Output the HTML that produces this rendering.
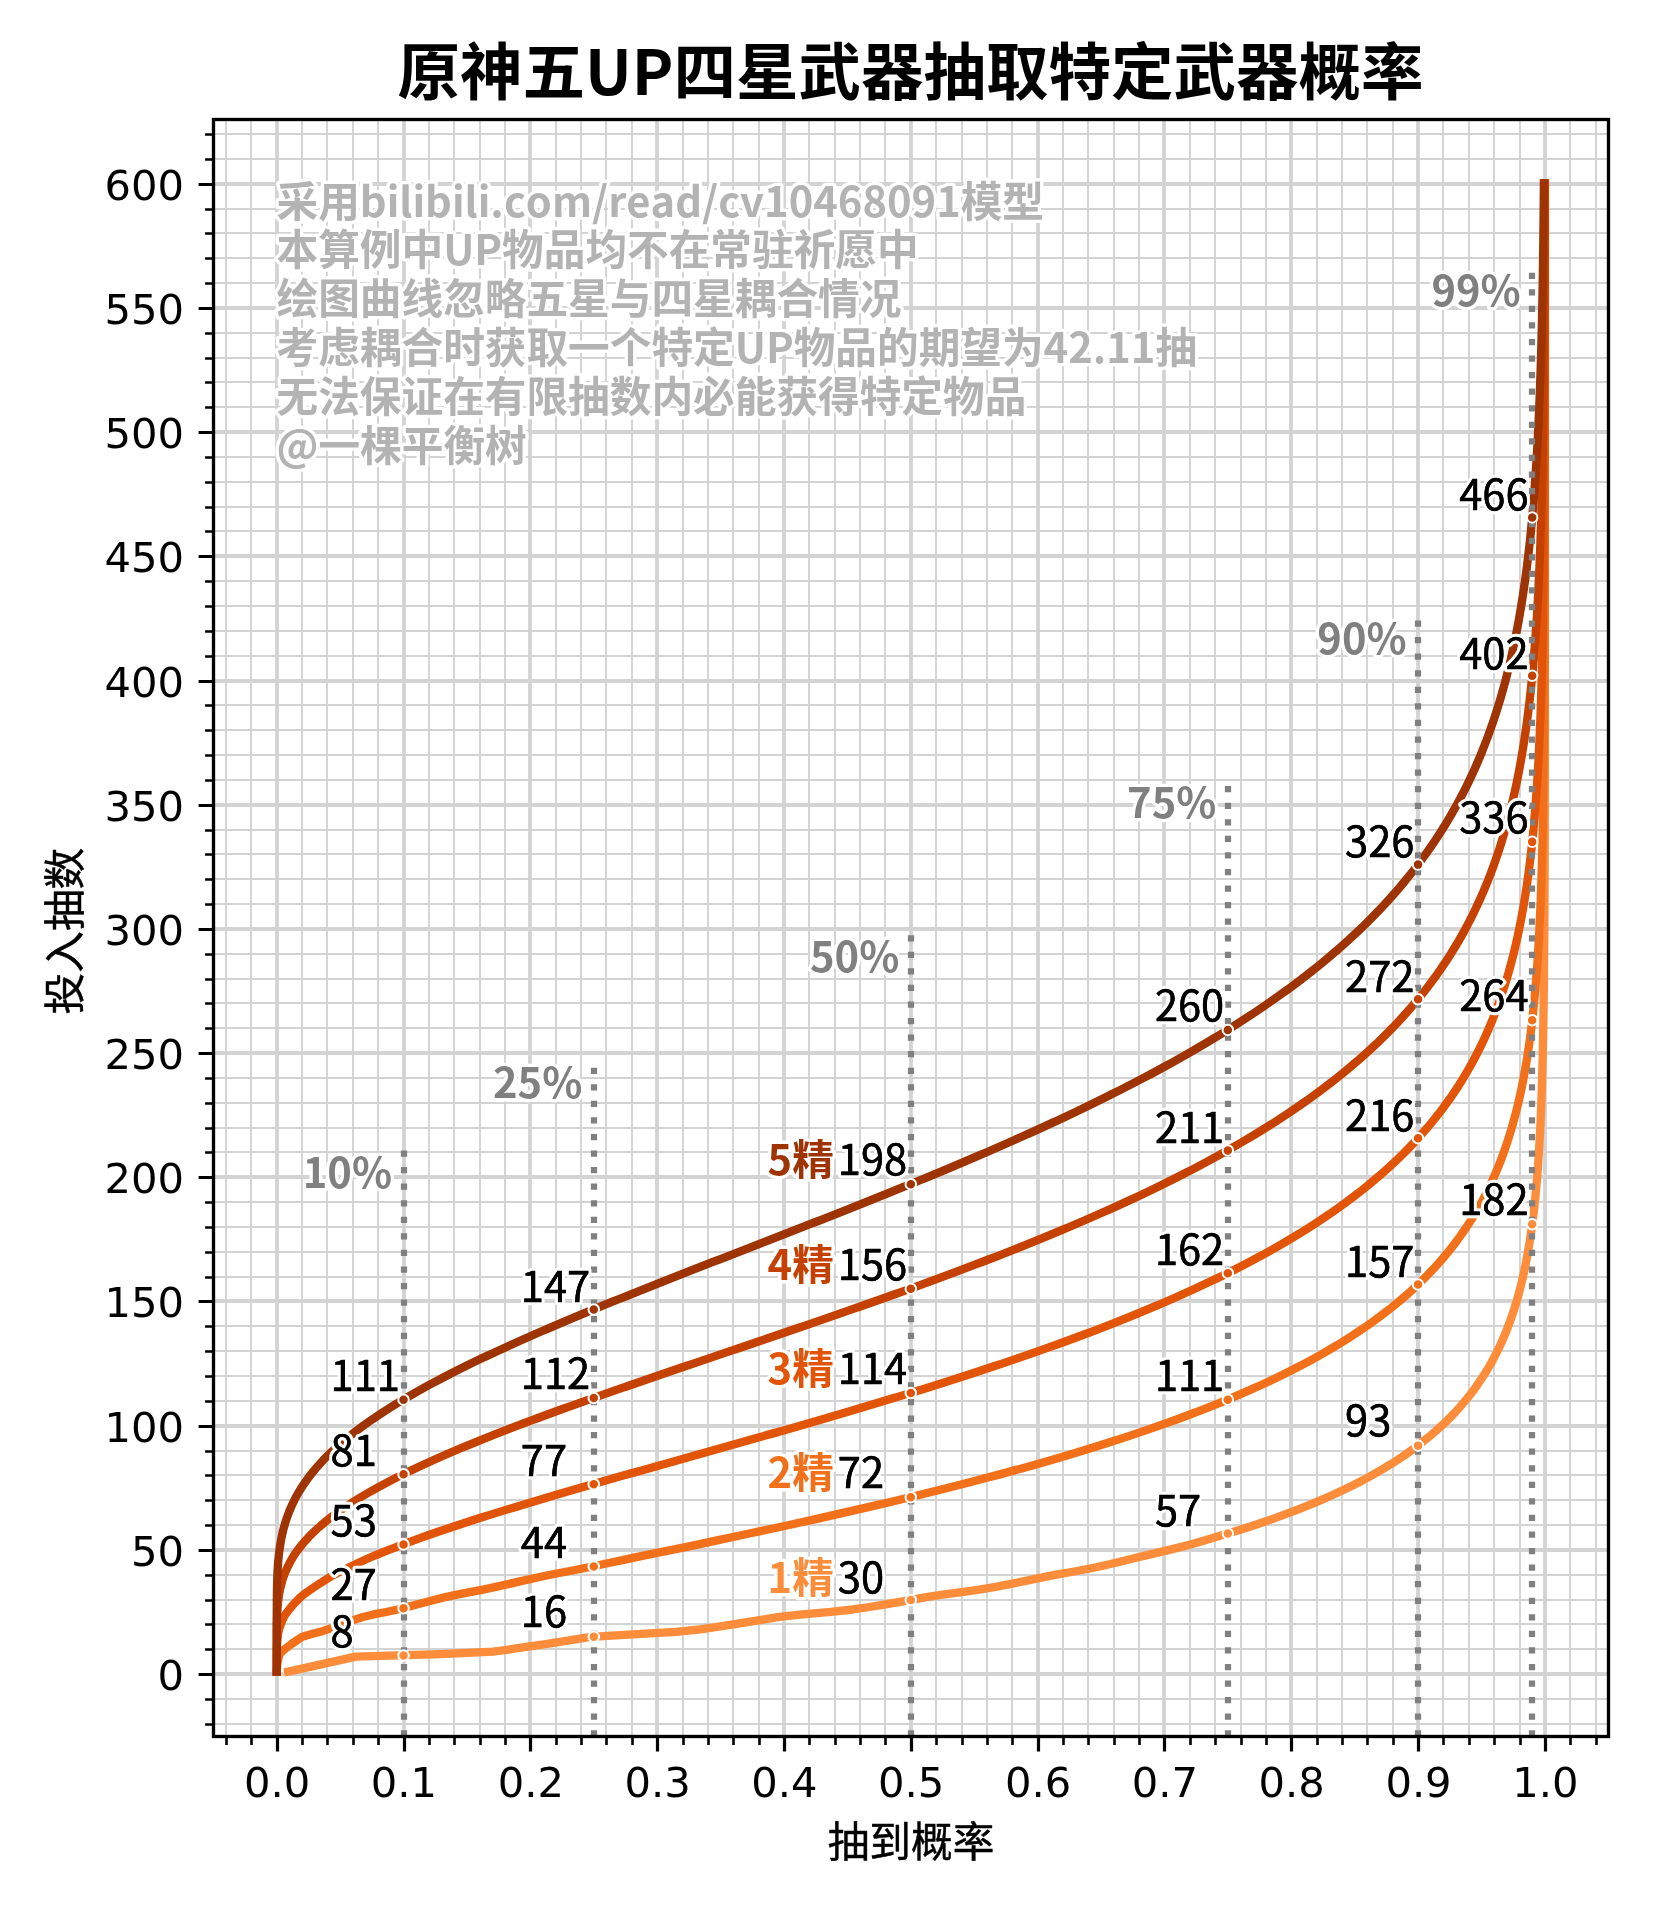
<!DOCTYPE html>
<html lang="zh"><head><meta charset="utf-8"><title>原神五UP四星武器抽取特定武器概率</title>
<style>html,body{margin:0;padding:0;background:#fff;overflow:hidden}svg{display:block;will-change:transform}.tk{font-family:"DejaVu Sans","Liberation Sans",sans-serif;font-size:41.67px;fill:#000}.cj{font-family:"Noto Sans CJK SC","Liberation Sans",sans-serif;font-kerning:none}.halo{paint-order:stroke fill;stroke:#fff;stroke-linejoin:round}</style></head><body>
<svg width="1653" height="1910" viewBox="0 0 1653 1910">
<rect width="1653" height="1910" fill="#fff"/>
<defs><clipPath id="ax"><rect x="213.5" y="119.5" width="1395" height="1617"/></clipPath></defs>
<path d="M226 119.5V1736.5M251 119.5V1736.5M302 119.5V1736.5M327 119.5V1736.5M353 119.5V1736.5M378 119.5V1736.5M429 119.5V1736.5M454 119.5V1736.5M480 119.5V1736.5M505 119.5V1736.5M556 119.5V1736.5M581 119.5V1736.5M606 119.5V1736.5M632 119.5V1736.5M683 119.5V1736.5M708 119.5V1736.5M733 119.5V1736.5M759 119.5V1736.5M809 119.5V1736.5M835 119.5V1736.5M860 119.5V1736.5M885 119.5V1736.5M936 119.5V1736.5M962 119.5V1736.5M987 119.5V1736.5M1012 119.5V1736.5M1063 119.5V1736.5M1088 119.5V1736.5M1114 119.5V1736.5M1139 119.5V1736.5M1190 119.5V1736.5M1215 119.5V1736.5M1241 119.5V1736.5M1266 119.5V1736.5M1317 119.5V1736.5M1342 119.5V1736.5M1367 119.5V1736.5M1393 119.5V1736.5M1443 119.5V1736.5M1469 119.5V1736.5M1494 119.5V1736.5M1520 119.5V1736.5M1570 119.5V1736.5M1596 119.5V1736.5M213.5 1724H1608.5M213.5 1699H1608.5M213.5 1649H1608.5M213.5 1624H1608.5M213.5 1600H1608.5M213.5 1575H1608.5M213.5 1525H1608.5M213.5 1500H1608.5M213.5 1475H1608.5M213.5 1451H1608.5M213.5 1401H1608.5M213.5 1376H1608.5M213.5 1351H1608.5M213.5 1326H1608.5M213.5 1277H1608.5M213.5 1252H1608.5M213.5 1227H1608.5M213.5 1202H1608.5M213.5 1152H1608.5M213.5 1128H1608.5M213.5 1103H1608.5M213.5 1078H1608.5M213.5 1028H1608.5M213.5 1003H1608.5M213.5 979H1608.5M213.5 954H1608.5M213.5 904H1608.5M213.5 879H1608.5M213.5 854H1608.5M213.5 830H1608.5M213.5 780H1608.5M213.5 755H1608.5M213.5 730H1608.5M213.5 705H1608.5M213.5 656H1608.5M213.5 631H1608.5M213.5 606H1608.5M213.5 581H1608.5M213.5 531H1608.5M213.5 507H1608.5M213.5 482H1608.5M213.5 457H1608.5M213.5 407H1608.5M213.5 382H1608.5M213.5 358H1608.5M213.5 333H1608.5M213.5 283H1608.5M213.5 258H1608.5M213.5 233H1608.5M213.5 209H1608.5M213.5 159H1608.5M213.5 134H1608.5" stroke="#d3d3d3" stroke-width="1.9" fill="none"/>
<path d="M277 119.5V1736.5M404 119.5V1736.5M530 119.5V1736.5M657 119.5V1736.5M784 119.5V1736.5M911 119.5V1736.5M1038 119.5V1736.5M1164 119.5V1736.5M1291 119.5V1736.5M1418 119.5V1736.5M1545 119.5V1736.5M213.5 1674H1608.5M213.5 1550H1608.5M213.5 1426H1608.5M213.5 1301H1608.5M213.5 1177H1608.5M213.5 1053H1608.5M213.5 929H1608.5M213.5 805H1608.5M213.5 681H1608.5M213.5 556H1608.5M213.5 432H1608.5M213.5 308H1608.5M213.5 184H1608.5" stroke="#d3d3d3" stroke-width="3.8" fill="none"/>
<g clip-path="url(#ax)" fill="none" stroke-width="8.33" stroke-linejoin="round" stroke-linecap="square">
<polyline points="288.17,1671.58 299.54,1669.1 310.86,1666.61 322.12,1664.13 333.33,1661.65 344.47,1659.16 355.56,1656.68 440.58,1654.19 493.13,1651.71 511.27,1649.23 527.67,1646.74 543.82,1644.26 559.73,1641.78 575.4,1639.29 590.84,1636.81 632.94,1634.32 676.07,1631.84 700.41,1629.36 717.16,1626.87 733.1,1624.39 748.78,1621.9 764.21,1619.42 779.39,1616.94 802.84,1614.45 830.76,1611.97 852.89,1609.49 869.4,1607 884.15,1604.52 898.48,1602.03 912.54,1599.55 926.32,1597.07 942.65,1594.58 961.67,1592.1 979.39,1589.61 994.14,1587.13 1007.18,1584.65 1019.63,1582.16 1031.78,1579.68 1043.68,1577.19 1056.25,1574.71 1069.99,1572.23 1083.65,1569.74 1096.01,1567.26 1107.19,1564.78 1117.77,1562.29 1128.04,1559.81 1138.07,1557.32 1148.18,1554.84 1158.68,1552.36 1169.25,1549.87 1179.29,1547.39 1188.63,1544.9 1197.48,1542.42 1206.04,1539.94 1214.37,1537.45 1222.61,1534.97 1230.92,1532.48 1239.23,1530 1247.29,1527.52 1254.97,1525.03 1262.29,1522.55 1269.36,1520.07 1276.23,1517.58 1282.97,1515.1 1289.65,1512.61 1296.27,1510.13 1302.75,1507.65 1309,1505.16 1315.01,1502.68 1320.82,1500.19 1326.46,1497.71 1331.96,1495.23 1337.37,1492.74 1342.7,1490.26 1347.93,1487.78 1353,1485.29 1357.9,1482.81 1362.65,1480.32 1367.27,1477.84 1371.76,1475.36 1376.16,1472.87 1380.47,1470.39 1384.7,1467.9 1388.81,1465.42 1392.8,1462.94 1396.68,1460.45 1400.44,1457.97 1404.11,1455.48 1407.69,1453 1411.19,1450.52 1414.61,1448.03 1417.95,1445.55 1421.2,1443.07 1424.35,1440.58 1427.42,1438.1 1430.41,1435.61 1433.32,1433.13 1436.17,1430.65 1438.94,1428.16 1441.65,1425.68 1444.29,1423.19 1446.86,1420.71 1449.36,1418.23 1451.79,1415.74 1454.16,1413.26 1456.48,1410.77 1458.73,1408.29 1460.93,1405.81 1463.08,1403.32 1465.17,1400.84 1467.2,1398.36 1469.18,1395.87 1471.11,1393.39 1472.99,1390.9 1474.83,1388.42 1476.62,1385.94 1478.36,1383.45 1480.06,1380.97 1481.71,1378.48 1483.32,1376 1484.89,1373.52 1486.42,1371.03 1487.92,1368.55 1489.37,1366.06 1490.79,1363.58 1492.17,1361.1 1493.51,1358.61 1494.83,1356.13 1496.1,1353.65 1497.35,1351.16 1498.56,1348.68 1499.74,1346.19 1500.9,1343.71 1502.02,1341.23 1503.11,1338.74 1504.18,1336.26 1505.22,1333.77 1506.23,1331.29 1507.22,1328.81 1508.18,1326.32 1509.12,1323.84 1510.03,1321.36 1510.92,1318.87 1511.79,1316.39 1512.63,1313.9 1513.46,1311.42 1514.26,1308.94 1515.04,1306.45 1515.8,1303.97 1516.54,1301.48 1517.27,1299 1517.97,1296.52 1518.66,1294.03 1519.33,1291.55 1519.98,1289.06 1520.62,1286.58 1521.24,1284.1 1521.84,1281.61 1522.43,1279.13 1523.01,1276.65 1523.56,1274.16 1524.11,1271.68 1524.64,1269.19 1525.16,1266.71 1525.66,1264.23 1526.15,1261.74 1526.63,1259.26 1527.1,1256.77 1527.55,1254.29 1527.99,1251.81 1528.43,1249.32 1528.85,1246.84 1529.26,1244.35 1529.66,1241.87 1530.05,1239.39 1530.43,1236.9 1530.79,1234.42 1531.16,1231.94 1531.51,1229.45 1531.85,1226.97 1532.18,1224.48 1532.51,1222 1532.82,1219.52 1533.13,1217.03 1533.43,1214.55 1533.73,1212.06 1534.01,1209.58 1534.29,1207.1 1534.56,1204.61 1534.82,1202.13 1535.08,1199.64 1535.33,1197.16 1535.58,1194.68 1535.82,1192.19 1536.05,1189.71 1536.27,1187.23 1536.49,1184.74 1536.71,1182.26 1536.92,1179.77 1537.12,1177.29 1537.32,1174.81 1537.52,1172.32 1537.7,1169.84 1537.89,1167.35 1538.07,1164.87 1538.24,1162.39 1538.41,1159.9 1538.58,1157.42 1538.74,1154.94 1538.9,1152.45 1539.05,1149.97 1539.2,1147.48 1539.35,1145 1539.49,1142.52 1539.63,1140.03 1539.76,1137.55 1539.89,1135.06 1540.02,1132.58 1540.15,1130.1 1540.27,1127.61 1540.39,1125.13 1540.5,1122.64 1540.62,1120.16 1540.73,1117.68 1540.83,1115.19 1540.94,1112.71 1541.04,1110.23 1541.14,1107.74 1541.23,1105.26 1541.33,1102.77 1541.42,1100.29 1541.51,1097.81 1541.6,1095.32 1541.68,1092.84 1541.76,1090.35 1541.84,1087.87 1541.92,1085.39 1542,1082.9 1542.07,1080.42 1542.15,1077.93 1542.22,1075.45 1542.29,1072.97 1542.35,1070.48 1542.42,1068 1542.48,1065.52 1542.54,1063.03 1542.6,1060.55 1542.66,1058.06 1542.72,1055.58 1542.78,1053.1 1542.83,1050.61 1542.89,1048.13 1542.94,1045.64 1542.99,1043.16 1543.04,1040.68 1543.09,1038.19 1543.13,1035.71 1543.18,1033.22 1543.22,1030.74 1543.27,1028.26 1543.31,1025.77 1543.35,1023.29 1543.39,1020.81 1543.43,1018.32 1543.47,1015.84 1543.5,1013.35 1543.54,1010.87 1543.57,1008.39 1543.61,1005.9 1543.64,1003.42 1543.67,1000.93 1543.71,998.45 1543.74,995.97 1543.77,993.48 1543.8,991 1543.83,988.52 1543.85,986.03 1543.88,983.55 1543.91,981.06 1543.93,978.58 1543.96,976.1 1543.98,973.61 1544.01,971.13 1544.03,968.64 1544.05,966.16 1544.07,963.68 1544.1,961.19 1544.12,958.71 1544.14,956.22 1544.16,953.74 1544.18,951.26 1544.2,948.77 1544.21,946.29 1544.23,943.81 1544.25,941.32 1544.27,938.84 1544.28,936.35 1544.3,933.87 1544.32,931.39 1544.33,928.9 1544.35,926.42 1544.36,923.93 1544.38,921.45 1544.39,918.97 1544.4,916.48 1544.42,914 1544.43,911.51 1544.44,909.03 1544.45,906.55 1544.47,904.06 1544.48,901.58 1544.49,899.1 1544.5,896.61 1544.51,894.13 1544.52,891.64 1544.53,889.16 1544.54,886.68 1544.55,884.19 1544.56,881.71 1544.57,879.22 1544.58,876.74 1544.59,874.26 1544.6,871.77 1544.6,869.29 1544.61,866.8 1544.62,864.32 1544.63,861.84 1544.63,859.35 1544.64,856.87 1544.65,854.39 1544.66,851.9 1544.66,849.42 1544.67,846.93 1544.68,844.45 1544.68,841.97 1544.69,839.48 1544.69,837 1544.7,834.51 1544.71,832.03 1544.71,829.55 1544.72,827.06 1544.72,824.58 1544.73,822.1 1544.73,819.61 1544.74,817.13 1544.74,814.64 1544.75,812.16 1544.75,809.68 1544.75,807.19 1544.76,804.71 1544.76,802.22 1544.77,799.74 1544.77,797.26 1544.77,794.77 1544.78,792.29 1544.78,789.8 1544.78,787.32 1544.79,784.84 1544.79,782.35 1544.8,779.87 1544.8,777.39 1544.8,774.9 1544.8,772.42 1544.81,769.93 1544.81,767.45 1544.81,764.97 1544.82,762.48 1544.82,760 1544.82,757.51 1544.82,755.03 1544.83,752.55 1544.83,750.06 1544.83,747.58 1544.83,745.09 1544.84,742.61 1544.84,740.13 1544.84,737.64 1544.84,735.16 1544.84,732.68 1544.85,730.19 1544.85,727.71 1544.85,725.22 1544.85,722.74 1544.85,720.26 1544.85,717.77 1544.86,715.29 1544.86,712.8 1544.86,710.32 1544.86,707.84 1544.86,705.35 1544.86,702.87 1544.87,700.39 1544.87,697.9 1544.87,695.42 1544.87,692.93 1544.87,690.45 1544.87,687.97 1544.87,685.48 1544.87,683 1544.88,680.51 1544.88,678.03 1544.88,675.55 1544.88,673.06 1544.88,670.58 1544.88,668.09 1544.88,665.61 1544.88,663.13 1544.88,660.64 1544.88,658.16 1544.89,655.68 1544.89,653.19 1544.89,650.71 1544.89,648.22 1544.89,645.74 1544.89,643.26 1544.89,640.77 1544.89,638.29 1544.89,635.8 1544.89,633.32 1544.89,630.84 1544.89,628.35 1544.89,625.87 1544.9,623.38 1544.9,620.9 1544.9,618.42 1544.9,615.93 1544.9,613.45 1544.9,610.97 1544.9,608.48 1544.9,606 1544.9,603.51 1544.9,601.03 1544.9,598.55 1544.9,596.06 1544.9,593.58 1544.9,591.09 1544.9,588.61 1544.9,586.13 1544.9,583.64 1544.9,581.16 1544.9,578.67 1544.9,576.19 1544.91,573.71 1544.91,571.22 1544.91,568.74 1544.91,566.26 1544.91,563.77 1544.91,561.29 1544.91,558.8 1544.91,556.32 1544.91,553.84 1544.91,551.35 1544.91,548.87 1544.91,546.38 1544.91,543.9 1544.91,541.42 1544.91,538.93 1544.91,536.45 1544.91,533.97 1544.91,531.48 1544.91,529 1544.91,526.51 1544.91,524.03 1544.91,521.55 1544.91,519.06 1544.91,516.58 1544.91,514.09 1544.91,511.61 1544.91,509.13 1544.91,506.64 1544.91,504.16 1544.91,501.67 1544.91,499.19 1544.91,496.71 1544.91,494.22 1544.91,491.74 1544.91,489.26 1544.91,486.77 1544.91,484.29 1544.91,481.8 1544.91,479.32 1544.91,476.84 1544.91,474.35 1544.91,471.87 1544.92,469.38 1544.92,466.9 1544.92,464.42 1544.92,461.93 1544.92,459.45 1544.92,456.96 1544.92,454.48 1544.92,452 1544.92,449.51 1544.92,447.03 1544.92,444.55 1544.92,442.06 1544.92,439.58 1544.92,437.09 1544.92,434.61 1544.92,432.13 1544.92,429.64 1544.92,427.16 1544.92,424.67 1544.92,422.19 1544.92,419.71 1544.92,417.22 1544.92,414.74 1544.92,412.25 1544.92,409.77 1544.92,407.29 1544.92,404.8 1544.92,402.32 1544.92,399.84 1544.92,397.35 1544.92,394.87 1544.92,392.38 1544.92,389.9 1544.92,387.42 1544.92,384.93 1544.92,382.45 1544.92,379.96 1544.92,377.48 1544.92,375 1544.92,372.51 1544.92,370.03 1544.92,367.55 1544.92,365.06 1544.92,362.58 1544.92,360.09 1544.92,357.61 1544.92,355.13 1544.92,352.64 1544.92,350.16 1544.92,347.67 1544.92,345.19 1544.92,342.71 1544.92,340.22 1544.92,337.74 1544.92,335.25 1544.92,332.77 1544.92,330.29 1544.92,327.8 1544.92,325.32 1544.92,322.84 1544.92,320.35 1544.92,317.87 1544.92,315.38 1544.92,312.9 1544.92,310.42 1544.92,307.93 1544.92,305.45 1544.92,302.96 1544.92,300.48 1544.92,298 1544.92,295.51 1544.92,293.03 1544.92,290.54 1544.92,288.06 1544.92,285.58 1544.92,283.09 1544.92,280.61 1544.92,278.13 1544.92,275.64 1544.92,273.16 1544.92,270.67 1544.92,268.19 1544.92,265.71 1544.92,263.22 1544.92,260.74 1544.92,258.25 1544.92,255.77 1544.92,253.29 1544.92,250.8 1544.92,248.32 1544.92,245.84 1544.92,243.35 1544.92,240.87 1544.92,238.38 1544.92,235.9 1544.92,233.42 1544.92,230.93 1544.92,228.45 1544.92,225.96 1544.92,223.48 1544.92,221 1544.92,218.51 1544.92,216.03 1544.92,213.54 1544.92,211.06 1544.92,208.58 1544.92,206.09 1544.92,203.61 1544.92,201.13 1544.92,198.64 1544.92,196.16 1544.92,193.67 1544.92,191.19 1544.92,188.71 1544.92,186.22 1544.92,183.74 1544.92,183.29" stroke="#fd8c3b"/>
<polyline points="276.76,1671.58 276.86,1669.1 277.07,1666.61 277.37,1664.13 277.78,1661.65 278.28,1659.16 278.89,1656.68 279.59,1654.19 281.71,1651.71 284.68,1649.23 287.86,1646.74 291.22,1644.26 294.76,1641.78 298.47,1639.29 302.35,1636.81 310.7,1634.32 320.24,1631.84 327.78,1629.36 334.56,1626.87 341.43,1624.39 348.45,1621.9 355.61,1619.42 362.92,1616.94 373.5,1614.45 386.27,1611.97 397.63,1609.49 407.42,1607 416.83,1604.52 426.3,1602.03 435.87,1599.55 445.54,1597.07 456.85,1594.58 470.02,1592.1 482.97,1589.61 494.69,1587.13 505.76,1584.65 516.69,1582.16 527.65,1579.68 538.64,1577.19 550.35,1574.71 563.21,1572.23 576.33,1569.74 588.8,1567.26 600.65,1564.78 612.23,1562.29 623.75,1559.81 635.25,1557.32 647,1554.84 659.33,1552.36 671.96,1549.87 684.33,1547.39 696.25,1544.9 707.87,1542.42 719.35,1539.94 730.77,1537.45 742.23,1534.97 753.91,1532.48 765.78,1530 777.55,1527.52 789.04,1525.03 800.26,1522.55 811.32,1520.07 822.26,1517.58 833.15,1515.1 844.09,1512.61 855.08,1510.13 866.02,1507.65 876.78,1505.16 887.32,1502.68 897.69,1500.19 907.93,1497.71 918.07,1495.23 928.17,1492.74 938.24,1490.26 948.25,1487.78 958.12,1485.29 967.83,1482.81 977.37,1480.32 986.78,1477.84 996.07,1475.36 1005.28,1472.87 1014.41,1470.39 1023.46,1467.9 1032.4,1465.42 1041.2,1462.94 1049.85,1460.45 1058.38,1457.97 1066.78,1455.48 1075.08,1453 1083.29,1450.52 1091.4,1448.03 1099.41,1445.55 1107.3,1443.07 1115.06,1440.58 1122.69,1438.1 1130.21,1435.61 1137.63,1433.13 1144.94,1430.65 1152.16,1428.16 1159.27,1425.68 1166.28,1423.19 1173.17,1420.71 1179.95,1418.23 1186.62,1415.74 1193.19,1413.26 1199.66,1410.77 1206.04,1408.29 1212.32,1405.81 1218.49,1403.32 1224.57,1400.84 1230.55,1398.36 1236.43,1395.87 1242.21,1393.39 1247.89,1390.9 1253.49,1388.42 1259,1385.94 1264.41,1383.45 1269.74,1380.97 1274.97,1378.48 1280.12,1376 1285.18,1373.52 1290.15,1371.03 1295.04,1368.55 1299.84,1366.06 1304.57,1363.58 1309.21,1361.1 1313.77,1358.61 1318.25,1356.13 1322.65,1353.65 1326.98,1351.16 1331.23,1348.68 1335.4,1346.19 1339.51,1343.71 1343.53,1341.23 1347.49,1338.74 1351.38,1336.26 1355.19,1333.77 1358.94,1331.29 1362.62,1328.81 1366.23,1326.32 1369.78,1323.84 1373.26,1321.36 1376.68,1318.87 1380.03,1316.39 1383.33,1313.9 1386.56,1311.42 1389.73,1308.94 1392.85,1306.45 1395.9,1303.97 1398.9,1301.48 1401.85,1299 1404.74,1296.52 1407.57,1294.03 1410.35,1291.55 1413.08,1289.06 1415.76,1286.58 1418.38,1284.1 1420.96,1281.61 1423.49,1279.13 1425.96,1276.65 1428.39,1274.16 1430.78,1271.68 1433.12,1269.19 1435.41,1266.71 1437.66,1264.23 1439.87,1261.74 1442.03,1259.26 1444.15,1256.77 1446.23,1254.29 1448.27,1251.81 1450.27,1249.32 1452.23,1246.84 1454.15,1244.35 1456.04,1241.87 1457.88,1239.39 1459.69,1236.9 1461.47,1234.42 1463.21,1231.94 1464.91,1229.45 1466.59,1226.97 1468.22,1224.48 1469.83,1222 1471.4,1219.52 1472.95,1217.03 1474.46,1214.55 1475.94,1212.06 1477.39,1209.58 1478.81,1207.1 1480.21,1204.61 1481.57,1202.13 1482.91,1199.64 1484.22,1197.16 1485.5,1194.68 1486.76,1192.19 1488,1189.71 1489.2,1187.23 1490.39,1184.74 1491.55,1182.26 1492.68,1179.77 1493.79,1177.29 1494.88,1174.81 1495.95,1172.32 1497,1169.84 1498.02,1167.35 1499.02,1164.87 1500,1162.39 1500.97,1159.9 1501.91,1157.42 1502.83,1154.94 1503.73,1152.45 1504.62,1149.97 1505.49,1147.48 1506.33,1145 1507.16,1142.52 1507.98,1140.03 1508.78,1137.55 1509.56,1135.06 1510.32,1132.58 1511.07,1130.1 1511.8,1127.61 1512.52,1125.13 1513.22,1122.64 1513.9,1120.16 1514.58,1117.68 1515.24,1115.19 1515.88,1112.71 1516.51,1110.23 1517.13,1107.74 1517.73,1105.26 1518.33,1102.77 1518.91,1100.29 1519.47,1097.81 1520.03,1095.32 1520.57,1092.84 1521.1,1090.35 1521.62,1087.87 1522.13,1085.39 1522.63,1082.9 1523.12,1080.42 1523.6,1077.93 1524.07,1075.45 1524.52,1072.97 1524.97,1070.48 1525.41,1068 1525.84,1065.52 1526.26,1063.03 1526.67,1060.55 1527.07,1058.06 1527.46,1055.58 1527.85,1053.1 1528.22,1050.61 1528.59,1048.13 1528.95,1045.64 1529.31,1043.16 1529.65,1040.68 1529.99,1038.19 1530.32,1035.71 1530.64,1033.22 1530.96,1030.74 1531.27,1028.26 1531.57,1025.77 1531.87,1023.29 1532.16,1020.81 1532.44,1018.32 1532.72,1015.84 1532.99,1013.35 1533.25,1010.87 1533.51,1008.39 1533.77,1005.9 1534.02,1003.42 1534.26,1000.93 1534.5,998.45 1534.73,995.97 1534.96,993.48 1535.18,991 1535.4,988.52 1535.61,986.03 1535.82,983.55 1536.02,981.06 1536.22,978.58 1536.41,976.1 1536.6,973.61 1536.79,971.13 1536.97,968.64 1537.15,966.16 1537.33,963.68 1537.5,961.19 1537.66,958.71 1537.83,956.22 1537.99,953.74 1538.14,951.26 1538.29,948.77 1538.44,946.29 1538.59,943.81 1538.73,941.32 1538.87,938.84 1539.01,936.35 1539.14,933.87 1539.27,931.39 1539.4,928.9 1539.52,926.42 1539.64,923.93 1539.76,921.45 1539.88,918.97 1539.99,916.48 1540.11,914 1540.21,911.51 1540.32,909.03 1540.43,906.55 1540.53,904.06 1540.63,901.58 1540.72,899.1 1540.82,896.61 1540.91,894.13 1541,891.64 1541.09,889.16 1541.18,886.68 1541.26,884.19 1541.35,881.71 1541.43,879.22 1541.51,876.74 1541.59,874.26 1541.66,871.77 1541.74,869.29 1541.81,866.8 1541.88,864.32 1541.95,861.84 1542.02,859.35 1542.08,856.87 1542.15,854.39 1542.21,851.9 1542.27,849.42 1542.33,846.93 1542.39,844.45 1542.45,841.97 1542.51,839.48 1542.56,837 1542.61,834.51 1542.67,832.03 1542.72,829.55 1542.77,827.06 1542.82,824.58 1542.87,822.1 1542.91,819.61 1542.96,817.13 1543,814.64 1543.05,812.16 1543.09,809.68 1543.13,807.19 1543.17,804.71 1543.21,802.22 1543.25,799.74 1543.29,797.26 1543.33,794.77 1543.37,792.29 1543.4,789.8 1543.44,787.32 1543.47,784.84 1543.5,782.35 1543.54,779.87 1543.57,777.39 1543.6,774.9 1543.63,772.42 1543.66,769.93 1543.69,767.45 1543.72,764.97 1543.74,762.48 1543.77,760 1543.8,757.51 1543.82,755.03 1543.85,752.55 1543.87,750.06 1543.9,747.58 1543.92,745.09 1543.95,742.61 1543.97,740.13 1543.99,737.64 1544.01,735.16 1544.03,732.68 1544.05,730.19 1544.07,727.71 1544.09,725.22 1544.11,722.74 1544.13,720.26 1544.15,717.77 1544.17,715.29 1544.18,712.8 1544.2,710.32 1544.22,707.84 1544.23,705.35 1544.25,702.87 1544.27,700.39 1544.28,697.9 1544.3,695.42 1544.31,692.93 1544.32,690.45 1544.34,687.97 1544.35,685.48 1544.36,683 1544.38,680.51 1544.39,678.03 1544.4,675.55 1544.41,673.06 1544.43,670.58 1544.44,668.09 1544.45,665.61 1544.46,663.13 1544.47,660.64 1544.48,658.16 1544.49,655.68 1544.5,653.19 1544.51,650.71 1544.52,648.22 1544.53,645.74 1544.54,643.26 1544.55,640.77 1544.56,638.29 1544.57,635.8 1544.57,633.32 1544.58,630.84 1544.59,628.35 1544.6,625.87 1544.6,623.38 1544.61,620.9 1544.62,618.42 1544.63,615.93 1544.63,613.45 1544.64,610.97 1544.65,608.48 1544.65,606 1544.66,603.51 1544.67,601.03 1544.67,598.55 1544.68,596.06 1544.68,593.58 1544.69,591.09 1544.69,588.61 1544.7,586.13 1544.7,583.64 1544.71,581.16 1544.71,578.67 1544.72,576.19 1544.72,573.71 1544.73,571.22 1544.73,568.74 1544.74,566.26 1544.74,563.77 1544.75,561.29 1544.75,558.8 1544.75,556.32 1544.76,553.84 1544.76,551.35 1544.77,548.87 1544.77,546.38 1544.77,543.9 1544.78,541.42 1544.78,538.93 1544.78,536.45 1544.79,533.97 1544.79,531.48 1544.79,529 1544.8,526.51 1544.8,524.03 1544.8,521.55 1544.8,519.06 1544.81,516.58 1544.81,514.09 1544.81,511.61 1544.81,509.13 1544.82,506.64 1544.82,504.16 1544.82,501.67 1544.82,499.19 1544.83,496.71 1544.83,494.22 1544.83,491.74 1544.83,489.26 1544.83,486.77 1544.84,484.29 1544.84,481.8 1544.84,479.32 1544.84,476.84 1544.84,474.35 1544.85,471.87 1544.85,469.38 1544.85,466.9 1544.85,464.42 1544.85,461.93 1544.85,459.45 1544.86,456.96 1544.86,454.48 1544.86,452 1544.86,449.51 1544.86,447.03 1544.86,444.55 1544.86,442.06 1544.87,439.58 1544.87,437.09 1544.87,434.61 1544.87,432.13 1544.87,429.64 1544.87,427.16 1544.87,424.67 1544.87,422.19 1544.88,419.71 1544.88,417.22 1544.88,414.74 1544.88,412.25 1544.88,409.77 1544.88,407.29 1544.88,404.8 1544.88,402.32 1544.88,399.84 1544.88,397.35 1544.88,394.87 1544.89,392.38 1544.89,389.9 1544.89,387.42 1544.89,384.93 1544.89,382.45 1544.89,379.96 1544.89,377.48 1544.89,375 1544.89,372.51 1544.89,370.03 1544.89,367.55 1544.89,365.06 1544.89,362.58 1544.89,360.09 1544.9,357.61 1544.9,355.13 1544.9,352.64 1544.9,350.16 1544.9,347.67 1544.9,345.19 1544.9,342.71 1544.9,340.22 1544.9,337.74 1544.9,335.25 1544.9,332.77 1544.9,330.29 1544.9,327.8 1544.9,325.32 1544.9,322.84 1544.9,320.35 1544.9,317.87 1544.9,315.38 1544.9,312.9 1544.9,310.42 1544.9,307.93 1544.91,305.45 1544.91,302.96 1544.91,300.48 1544.91,298 1544.91,295.51 1544.91,293.03 1544.91,290.54 1544.91,288.06 1544.91,285.58 1544.91,283.09 1544.91,280.61 1544.91,278.13 1544.91,275.64 1544.91,273.16 1544.91,270.67 1544.91,268.19 1544.91,265.71 1544.91,263.22 1544.91,260.74 1544.91,258.25 1544.91,255.77 1544.91,253.29 1544.91,250.8 1544.91,248.32 1544.91,245.84 1544.91,243.35 1544.91,240.87 1544.91,238.38 1544.91,235.9 1544.91,233.42 1544.91,230.93 1544.91,228.45 1544.91,225.96 1544.91,223.48 1544.91,221 1544.91,218.51 1544.91,216.03 1544.91,213.54 1544.91,211.06 1544.91,208.58 1544.91,206.09 1544.91,203.61 1544.91,201.13 1544.91,198.64 1544.91,196.16 1544.92,193.67 1544.92,191.19 1544.92,188.71 1544.92,186.22 1544.92,183.74 1544.92,183.29" stroke="#f3701b"/>
<polyline points="276.76,1671.58 276.76,1669.1 276.76,1666.61 276.76,1664.13 276.77,1661.65 276.78,1659.16 276.79,1656.68 276.81,1654.19 276.84,1651.71 276.89,1649.23 276.97,1646.74 277.1,1644.26 277.26,1641.78 277.47,1639.29 277.72,1636.81 278.01,1634.32 278.47,1631.84 279.11,1629.36 279.87,1626.87 280.73,1624.39 281.69,1621.9 282.74,1619.42 283.88,1616.94 285.38,1614.45 287.23,1611.97 289.2,1609.49 291.24,1607 293.39,1604.52 295.66,1602.03 298.07,1599.55 300.61,1597.07 303.55,1594.58 306.99,1592.1 310.61,1589.61 314.23,1587.13 317.9,1584.65 321.7,1582.16 325.63,1579.68 329.71,1577.19 334.12,1574.71 338.99,1572.23 344.14,1569.74 349.31,1567.26 354.5,1564.78 359.76,1562.29 365.16,1559.81 370.68,1557.32 376.44,1554.84 382.56,1552.36 388.97,1549.87 395.46,1547.39 401.97,1544.9 408.51,1542.42 415.15,1539.94 421.9,1537.45 428.8,1534.97 435.96,1532.48 443.35,1530 450.85,1527.52 458.39,1525.03 465.94,1522.55 473.55,1520.07 481.23,1517.58 489.02,1515.1 496.96,1512.61 505.07,1510.13 513.28,1507.65 521.53,1505.16 529.8,1502.68 538.09,1500.19 546.41,1497.71 554.8,1495.23 563.28,1492.74 571.85,1490.26 580.51,1487.78 589.19,1485.29 597.88,1482.81 606.57,1480.32 615.27,1477.84 624,1475.36 632.77,1472.87 641.58,1470.39 650.44,1467.9 659.31,1465.42 668.17,1462.94 677.02,1460.45 685.86,1457.97 694.69,1455.48 703.53,1453 712.38,1450.52 721.24,1448.03 730.09,1445.55 738.92,1443.07 747.73,1440.58 756.5,1438.1 765.25,1435.61 773.98,1433.13 782.69,1430.65 791.39,1428.16 800.05,1425.68 808.69,1423.19 817.29,1420.71 825.84,1418.23 834.35,1415.74 842.83,1413.26 851.26,1410.77 859.66,1408.29 868.02,1405.81 876.33,1403.32 884.6,1400.84 892.81,1398.36 900.97,1395.87 909.08,1393.39 917.13,1390.9 925.14,1388.42 933.09,1385.94 940.99,1383.45 948.84,1380.97 956.62,1378.48 964.34,1376 972,1373.52 979.61,1371.03 987.15,1368.55 994.63,1366.06 1002.06,1363.58 1009.42,1361.1 1016.71,1358.61 1023.94,1356.13 1031.11,1353.65 1038.21,1351.16 1045.25,1348.68 1052.22,1346.19 1059.13,1343.71 1065.97,1341.23 1072.75,1338.74 1079.45,1336.26 1086.09,1333.77 1092.67,1331.29 1099.18,1328.81 1105.62,1326.32 1111.99,1323.84 1118.3,1321.36 1124.54,1318.87 1130.71,1316.39 1136.81,1313.9 1142.85,1311.42 1148.82,1308.94 1154.72,1306.45 1160.56,1303.97 1166.33,1301.48 1172.04,1299 1177.68,1296.52 1183.25,1294.03 1188.75,1291.55 1194.2,1289.06 1199.57,1286.58 1204.88,1284.1 1210.13,1281.61 1215.31,1279.13 1220.43,1276.65 1225.48,1274.16 1230.47,1271.68 1235.4,1269.19 1240.27,1266.71 1245.07,1264.23 1249.81,1261.74 1254.49,1259.26 1259.11,1256.77 1263.67,1254.29 1268.17,1251.81 1272.61,1249.32 1276.99,1246.84 1281.31,1244.35 1285.57,1241.87 1289.77,1239.39 1293.92,1236.9 1298.01,1234.42 1302.05,1231.94 1306.03,1229.45 1309.95,1226.97 1313.82,1224.48 1317.63,1222 1321.39,1219.52 1325.1,1217.03 1328.75,1214.55 1332.35,1212.06 1335.9,1209.58 1339.4,1207.1 1342.85,1204.61 1346.25,1202.13 1349.59,1199.64 1352.89,1197.16 1356.14,1194.68 1359.34,1192.19 1362.5,1189.71 1365.61,1187.23 1368.67,1184.74 1371.68,1182.26 1374.65,1179.77 1377.57,1177.29 1380.45,1174.81 1383.29,1172.32 1386.08,1169.84 1388.83,1167.35 1391.54,1164.87 1394.2,1162.39 1396.83,1159.9 1399.41,1157.42 1401.95,1154.94 1404.46,1152.45 1406.92,1149.97 1409.34,1147.48 1411.73,1145 1414.08,1142.52 1416.39,1140.03 1418.66,1137.55 1420.9,1135.06 1423.1,1132.58 1425.27,1130.1 1427.4,1127.61 1429.5,1125.13 1431.56,1122.64 1433.59,1120.16 1435.59,1117.68 1437.55,1115.19 1439.48,1112.71 1441.38,1110.23 1443.25,1107.74 1445.09,1105.26 1446.89,1102.77 1448.67,1100.29 1450.42,1097.81 1452.14,1095.32 1453.82,1092.84 1455.49,1090.35 1457.12,1087.87 1458.72,1085.39 1460.3,1082.9 1461.85,1080.42 1463.38,1077.93 1464.88,1075.45 1466.35,1072.97 1467.8,1070.48 1469.23,1068 1470.63,1065.52 1472,1063.03 1473.35,1060.55 1474.68,1058.06 1475.99,1055.58 1477.27,1053.1 1478.53,1050.61 1479.77,1048.13 1480.99,1045.64 1482.18,1043.16 1483.36,1040.68 1484.51,1038.19 1485.65,1035.71 1486.76,1033.22 1487.86,1030.74 1488.93,1028.26 1489.99,1025.77 1491.02,1023.29 1492.04,1020.81 1493.04,1018.32 1494.03,1015.84 1494.99,1013.35 1495.94,1010.87 1496.87,1008.39 1497.79,1005.9 1498.69,1003.42 1499.57,1000.93 1500.43,998.45 1501.29,995.97 1502.12,993.48 1502.94,991 1503.75,988.52 1504.54,986.03 1505.31,983.55 1506.08,981.06 1506.82,978.58 1507.56,976.1 1508.28,973.61 1508.99,971.13 1509.68,968.64 1510.36,966.16 1511.03,963.68 1511.69,961.19 1512.34,958.71 1512.97,956.22 1513.59,953.74 1514.2,951.26 1514.8,948.77 1515.39,946.29 1515.96,943.81 1516.53,941.32 1517.09,938.84 1517.63,936.35 1518.17,933.87 1518.69,931.39 1519.21,928.9 1519.71,926.42 1520.21,923.93 1520.69,921.45 1521.17,918.97 1521.64,916.48 1522.1,914 1522.55,911.51 1522.99,909.03 1523.42,906.55 1523.85,904.06 1524.27,901.58 1524.68,899.1 1525.08,896.61 1525.47,894.13 1525.86,891.64 1526.24,889.16 1526.61,886.68 1526.98,884.19 1527.33,881.71 1527.69,879.22 1528.03,876.74 1528.37,874.26 1528.7,871.77 1529.02,869.29 1529.34,866.8 1529.65,864.32 1529.96,861.84 1530.26,859.35 1530.56,856.87 1530.85,854.39 1531.13,851.9 1531.41,849.42 1531.68,846.93 1531.95,844.45 1532.21,841.97 1532.46,839.48 1532.72,837 1532.96,834.51 1533.21,832.03 1533.44,829.55 1533.68,827.06 1533.9,824.58 1534.13,822.1 1534.35,819.61 1534.56,817.13 1534.77,814.64 1534.98,812.16 1535.18,809.68 1535.38,807.19 1535.57,804.71 1535.76,802.22 1535.95,799.74 1536.13,797.26 1536.31,794.77 1536.49,792.29 1536.66,789.8 1536.83,787.32 1537,784.84 1537.16,782.35 1537.32,779.87 1537.48,777.39 1537.63,774.9 1537.78,772.42 1537.93,769.93 1538.07,767.45 1538.21,764.97 1538.35,762.48 1538.48,760 1538.62,757.51 1538.75,755.03 1538.87,752.55 1539,750.06 1539.12,747.58 1539.24,745.09 1539.36,742.61 1539.47,740.13 1539.59,737.64 1539.7,735.16 1539.81,732.68 1539.91,730.19 1540.02,727.71 1540.12,725.22 1540.22,722.74 1540.32,720.26 1540.41,717.77 1540.51,715.29 1540.6,712.8 1540.69,710.32 1540.78,707.84 1540.86,705.35 1540.95,702.87 1541.03,700.39 1541.11,697.9 1541.19,695.42 1541.27,692.93 1541.35,690.45 1541.42,687.97 1541.49,685.48 1541.57,683 1541.64,680.51 1541.71,678.03 1541.77,675.55 1541.84,673.06 1541.9,670.58 1541.97,668.09 1542.03,665.61 1542.09,663.13 1542.15,660.64 1542.21,658.16 1542.27,655.68 1542.32,653.19 1542.38,650.71 1542.43,648.22 1542.48,645.74 1542.53,643.26 1542.58,640.77 1542.63,638.29 1542.68,635.8 1542.73,633.32 1542.78,630.84 1542.82,628.35 1542.87,625.87 1542.91,623.38 1542.95,620.9 1542.99,618.42 1543.03,615.93 1543.08,613.45 1543.11,610.97 1543.15,608.48 1543.19,606 1543.23,603.51 1543.26,601.03 1543.3,598.55 1543.33,596.06 1543.37,593.58 1543.4,591.09 1543.43,588.61 1543.46,586.13 1543.5,583.64 1543.53,581.16 1543.56,578.67 1543.58,576.19 1543.61,573.71 1543.64,571.22 1543.67,568.74 1543.7,566.26 1543.72,563.77 1543.75,561.29 1543.77,558.8 1543.8,556.32 1543.82,553.84 1543.84,551.35 1543.87,548.87 1543.89,546.38 1543.91,543.9 1543.93,541.42 1543.96,538.93 1543.98,536.45 1544,533.97 1544.02,531.48 1544.04,529 1544.05,526.51 1544.07,524.03 1544.09,521.55 1544.11,519.06 1544.13,516.58 1544.14,514.09 1544.16,511.61 1544.18,509.13 1544.19,506.64 1544.21,504.16 1544.22,501.67 1544.24,499.19 1544.25,496.71 1544.27,494.22 1544.28,491.74 1544.3,489.26 1544.31,486.77 1544.32,484.29 1544.34,481.8 1544.35,479.32 1544.36,476.84 1544.37,474.35 1544.39,471.87 1544.4,469.38 1544.41,466.9 1544.42,464.42 1544.43,461.93 1544.44,459.45 1544.45,456.96 1544.46,454.48 1544.47,452 1544.48,449.51 1544.49,447.03 1544.5,444.55 1544.51,442.06 1544.52,439.58 1544.53,437.09 1544.54,434.61 1544.54,432.13 1544.55,429.64 1544.56,427.16 1544.57,424.67 1544.58,422.19 1544.58,419.71 1544.59,417.22 1544.6,414.74 1544.6,412.25 1544.61,409.77 1544.62,407.29 1544.63,404.8 1544.63,402.32 1544.64,399.84 1544.64,397.35 1544.65,394.87 1544.66,392.38 1544.66,389.9 1544.67,387.42 1544.67,384.93 1544.68,382.45 1544.68,379.96 1544.69,377.48 1544.69,375 1544.7,372.51 1544.7,370.03 1544.71,367.55 1544.71,365.06 1544.72,362.58 1544.72,360.09 1544.73,357.61 1544.73,355.13 1544.74,352.64 1544.74,350.16 1544.74,347.67 1544.75,345.19 1544.75,342.71 1544.75,340.22 1544.76,337.74 1544.76,335.25 1544.77,332.77 1544.77,330.29 1544.77,327.8 1544.78,325.32 1544.78,322.84 1544.78,320.35 1544.78,317.87 1544.79,315.38 1544.79,312.9 1544.79,310.42 1544.8,307.93 1544.8,305.45 1544.8,302.96 1544.8,300.48 1544.81,298 1544.81,295.51 1544.81,293.03 1544.81,290.54 1544.82,288.06 1544.82,285.58 1544.82,283.09 1544.82,280.61 1544.83,278.13 1544.83,275.64 1544.83,273.16 1544.83,270.67 1544.83,268.19 1544.84,265.71 1544.84,263.22 1544.84,260.74 1544.84,258.25 1544.84,255.77 1544.84,253.29 1544.85,250.8 1544.85,248.32 1544.85,245.84 1544.85,243.35 1544.85,240.87 1544.85,238.38 1544.86,235.9 1544.86,233.42 1544.86,230.93 1544.86,228.45 1544.86,225.96 1544.86,223.48 1544.86,221 1544.86,218.51 1544.87,216.03 1544.87,213.54 1544.87,211.06 1544.87,208.58 1544.87,206.09 1544.87,203.61 1544.87,201.13 1544.87,198.64 1544.88,196.16 1544.88,193.67 1544.88,191.19 1544.88,188.71 1544.88,186.22 1544.88,183.74 1544.88,183.29" stroke="#e25508"/>
<polyline points="276.76,1671.58 276.76,1669.1 276.76,1666.61 276.76,1664.13 276.76,1661.65 276.76,1659.16 276.76,1656.68 276.76,1654.19 276.76,1651.71 276.76,1649.23 276.76,1646.74 276.76,1644.26 276.77,1641.78 276.77,1639.29 276.78,1636.81 276.79,1634.32 276.8,1631.84 276.82,1629.36 276.85,1626.87 276.89,1624.39 276.94,1621.9 277,1619.42 277.08,1616.94 277.17,1614.45 277.29,1611.97 277.44,1609.49 277.63,1607 277.85,1604.52 278.1,1602.03 278.38,1599.55 278.7,1597.07 279.08,1594.58 279.52,1592.1 280.02,1589.61 280.58,1587.13 281.2,1584.65 281.87,1582.16 282.6,1579.68 283.39,1577.19 284.26,1574.71 285.24,1572.23 286.32,1569.74 287.47,1567.26 288.7,1564.78 290,1562.29 291.37,1559.81 292.83,1557.32 294.4,1554.84 296.09,1552.36 297.9,1549.87 299.81,1547.39 301.81,1544.9 303.89,1542.42 306.06,1539.94 308.33,1537.45 310.71,1534.97 313.22,1532.48 315.87,1530 318.63,1527.52 321.48,1525.03 324.43,1522.55 327.47,1520.07 330.61,1517.58 333.87,1515.1 337.25,1512.61 340.76,1510.13 344.4,1507.65 348.13,1505.16 351.96,1502.68 355.88,1500.19 359.9,1497.71 364.02,1495.23 368.26,1492.74 372.62,1490.26 377.1,1487.78 381.67,1485.29 386.34,1482.81 391.09,1480.32 395.94,1477.84 400.87,1475.36 405.91,1472.87 411.05,1470.39 416.29,1467.9 421.63,1465.42 427.05,1462.94 432.55,1460.45 438.12,1457.97 443.77,1455.48 449.51,1453 455.33,1450.52 461.24,1448.03 467.23,1445.55 473.29,1443.07 479.41,1440.58 485.6,1438.1 491.85,1435.61 498.17,1433.13 504.55,1430.65 511,1428.16 517.52,1425.68 524.09,1423.19 530.71,1420.71 537.38,1418.23 544.1,1415.74 550.86,1413.26 557.67,1410.77 564.54,1408.29 571.44,1405.81 578.39,1403.32 585.37,1400.84 592.39,1398.36 599.44,1395.87 606.52,1393.39 613.63,1390.9 620.77,1388.42 627.94,1385.94 635.13,1383.45 642.34,1380.97 649.58,1378.48 656.83,1376 664.09,1373.52 671.37,1371.03 678.66,1368.55 685.97,1366.06 693.28,1363.58 700.61,1361.1 707.93,1358.61 715.26,1356.13 722.6,1353.65 729.93,1351.16 737.26,1348.68 744.59,1346.19 751.91,1343.71 759.23,1341.23 766.54,1338.74 773.85,1336.26 781.14,1333.77 788.42,1331.29 795.69,1328.81 802.94,1326.32 810.18,1323.84 817.4,1321.36 824.6,1318.87 831.78,1316.39 838.94,1313.9 846.08,1311.42 853.2,1308.94 860.29,1306.45 867.36,1303.97 874.4,1301.48 881.41,1299 888.4,1296.52 895.35,1294.03 902.28,1291.55 909.17,1289.06 916.03,1286.58 922.86,1284.1 929.65,1281.61 936.41,1279.13 943.14,1276.65 949.82,1274.16 956.48,1271.68 963.09,1269.19 969.66,1266.71 976.2,1264.23 982.7,1261.74 989.15,1259.26 995.57,1256.77 1001.94,1254.29 1008.28,1251.81 1014.57,1249.32 1020.81,1246.84 1027.02,1244.35 1033.18,1241.87 1039.29,1239.39 1045.37,1236.9 1051.39,1234.42 1057.38,1231.94 1063.31,1229.45 1069.2,1226.97 1075.05,1224.48 1080.85,1222 1086.6,1219.52 1092.3,1217.03 1097.96,1214.55 1103.57,1212.06 1109.14,1209.58 1114.65,1207.1 1120.12,1204.61 1125.54,1202.13 1130.92,1199.64 1136.24,1197.16 1141.52,1194.68 1146.75,1192.19 1151.93,1189.71 1157.06,1187.23 1162.15,1184.74 1167.18,1182.26 1172.17,1179.77 1177.11,1177.29 1182,1174.81 1186.85,1172.32 1191.64,1169.84 1196.39,1167.35 1201.09,1164.87 1205.75,1162.39 1210.35,1159.9 1214.91,1157.42 1219.42,1154.94 1223.88,1152.45 1228.3,1149.97 1232.67,1147.48 1236.99,1145 1241.27,1142.52 1245.5,1140.03 1249.68,1137.55 1253.82,1135.06 1257.92,1132.58 1261.96,1130.1 1265.96,1127.61 1269.92,1125.13 1273.83,1122.64 1277.7,1120.16 1281.52,1117.68 1285.3,1115.19 1289.04,1112.71 1292.73,1110.23 1296.37,1107.74 1299.98,1105.26 1303.54,1102.77 1307.06,1100.29 1310.54,1097.81 1313.97,1095.32 1317.37,1092.84 1320.72,1090.35 1324.03,1087.87 1327.3,1085.39 1330.53,1082.9 1333.72,1080.42 1336.87,1077.93 1339.99,1075.45 1343.06,1072.97 1346.09,1070.48 1349.09,1068 1352.04,1065.52 1354.96,1063.03 1357.84,1060.55 1360.69,1058.06 1363.49,1055.58 1366.26,1053.1 1369,1050.61 1371.7,1048.13 1374.36,1045.64 1376.99,1043.16 1379.58,1040.68 1382.14,1038.19 1384.66,1035.71 1387.15,1033.22 1389.61,1030.74 1392.03,1028.26 1394.42,1025.77 1396.78,1023.29 1399.1,1020.81 1401.4,1018.32 1403.66,1015.84 1405.89,1013.35 1408.09,1010.87 1410.26,1008.39 1412.4,1005.9 1414.5,1003.42 1416.58,1000.93 1418.63,998.45 1420.65,995.97 1422.65,993.48 1424.61,991 1426.55,988.52 1428.45,986.03 1430.33,983.55 1432.19,981.06 1434.01,978.58 1435.81,976.1 1437.59,973.61 1439.34,971.13 1441.06,968.64 1442.76,966.16 1444.43,963.68 1446.08,961.19 1447.7,958.71 1449.3,956.22 1450.88,953.74 1452.43,951.26 1453.96,948.77 1455.47,946.29 1456.95,943.81 1458.41,941.32 1459.85,938.84 1461.27,936.35 1462.66,933.87 1464.04,931.39 1465.39,928.9 1466.73,926.42 1468.04,923.93 1469.33,921.45 1470.61,918.97 1471.86,916.48 1473.09,914 1474.31,911.51 1475.5,909.03 1476.68,906.55 1477.84,904.06 1478.98,901.58 1480.11,899.1 1481.21,896.61 1482.3,894.13 1483.37,891.64 1484.43,889.16 1485.46,886.68 1486.48,884.19 1487.49,881.71 1488.48,879.22 1489.45,876.74 1490.41,874.26 1491.35,871.77 1492.28,869.29 1493.19,866.8 1494.09,864.32 1494.97,861.84 1495.84,859.35 1496.7,856.87 1497.54,854.39 1498.37,851.9 1499.18,849.42 1499.98,846.93 1500.77,844.45 1501.54,841.97 1502.31,839.48 1503.06,837 1503.79,834.51 1504.52,832.03 1505.23,829.55 1505.93,827.06 1506.62,824.58 1507.3,822.1 1507.97,819.61 1508.63,817.13 1509.27,814.64 1509.9,812.16 1510.53,809.68 1511.14,807.19 1511.75,804.71 1512.34,802.22 1512.92,799.74 1513.49,797.26 1514.06,794.77 1514.61,792.29 1515.16,789.8 1515.69,787.32 1516.22,784.84 1516.74,782.35 1517.24,779.87 1517.74,777.39 1518.24,774.9 1518.72,772.42 1519.19,769.93 1519.66,767.45 1520.12,764.97 1520.57,762.48 1521.01,760 1521.45,757.51 1521.88,755.03 1522.3,752.55 1522.71,750.06 1523.12,747.58 1523.51,745.09 1523.91,742.61 1524.29,740.13 1524.67,737.64 1525.04,735.16 1525.41,732.68 1525.77,730.19 1526.12,727.71 1526.47,725.22 1526.81,722.74 1527.14,720.26 1527.47,717.77 1527.79,715.29 1528.11,712.8 1528.42,710.32 1528.73,707.84 1529.03,705.35 1529.32,702.87 1529.61,700.39 1529.9,697.9 1530.18,695.42 1530.45,692.93 1530.72,690.45 1530.99,687.97 1531.25,685.48 1531.5,683 1531.75,680.51 1532,678.03 1532.24,675.55 1532.48,673.06 1532.72,670.58 1532.94,668.09 1533.17,665.61 1533.39,663.13 1533.61,660.64 1533.82,658.16 1534.03,655.68 1534.24,653.19 1534.44,650.71 1534.64,648.22 1534.83,645.74 1535.02,643.26 1535.21,640.77 1535.39,638.29 1535.58,635.8 1535.75,633.32 1535.93,630.84 1536.1,628.35 1536.27,625.87 1536.43,623.38 1536.59,620.9 1536.75,618.42 1536.91,615.93 1537.06,613.45 1537.21,610.97 1537.36,608.48 1537.5,606 1537.65,603.51 1537.79,601.03 1537.92,598.55 1538.06,596.06 1538.19,593.58 1538.32,591.09 1538.45,588.61 1538.57,586.13 1538.69,583.64 1538.81,581.16 1538.93,578.67 1539.05,576.19 1539.16,573.71 1539.27,571.22 1539.38,568.74 1539.49,566.26 1539.59,563.77 1539.7,561.29 1539.8,558.8 1539.9,556.32 1540,553.84 1540.09,551.35 1540.18,548.87 1540.28,546.38 1540.37,543.9 1540.46,541.42 1540.54,538.93 1540.63,536.45 1540.71,533.97 1540.79,531.48 1540.88,529 1540.95,526.51 1541.03,524.03 1541.11,521.55 1541.18,519.06 1541.26,516.58 1541.33,514.09 1541.4,511.61 1541.47,509.13 1541.54,506.64 1541.6,504.16 1541.67,501.67 1541.73,499.19 1541.79,496.71 1541.86,494.22 1541.92,491.74 1541.98,489.26 1542.03,486.77 1542.09,484.29 1542.15,481.8 1542.2,479.32 1542.26,476.84 1542.31,474.35 1542.36,471.87 1542.41,469.38 1542.46,466.9 1542.51,464.42 1542.56,461.93 1542.6,459.45 1542.65,456.96 1542.7,454.48 1542.74,452 1542.78,449.51 1542.83,447.03 1542.87,444.55 1542.91,442.06 1542.95,439.58 1542.99,437.09 1543.03,434.61 1543.06,432.13 1543.1,429.64 1543.14,427.16 1543.17,424.67 1543.21,422.19 1543.24,419.71 1543.28,417.22 1543.31,414.74 1543.34,412.25 1543.37,409.77 1543.4,407.29 1543.43,404.8 1543.46,402.32 1543.49,399.84 1543.52,397.35 1543.55,394.87 1543.58,392.38 1543.61,389.9 1543.63,387.42 1543.66,384.93 1543.68,382.45 1543.71,379.96 1543.73,377.48 1543.76,375 1543.78,372.51 1543.8,370.03 1543.83,367.55 1543.85,365.06 1543.87,362.58 1543.89,360.09 1543.91,357.61 1543.93,355.13 1543.95,352.64 1543.97,350.16 1543.99,347.67 1544.01,345.19 1544.03,342.71 1544.05,340.22 1544.06,337.74 1544.08,335.25 1544.1,332.77 1544.12,330.29 1544.13,327.8 1544.15,325.32 1544.16,322.84 1544.18,320.35 1544.19,317.87 1544.21,315.38 1544.22,312.9 1544.24,310.42 1544.25,307.93 1544.27,305.45 1544.28,302.96 1544.29,300.48 1544.31,298 1544.32,295.51 1544.33,293.03 1544.34,290.54 1544.35,288.06 1544.37,285.58 1544.38,283.09 1544.39,280.61 1544.4,278.13 1544.41,275.64 1544.42,273.16 1544.43,270.67 1544.44,268.19 1544.45,265.71 1544.46,263.22 1544.47,260.74 1544.48,258.25 1544.49,255.77 1544.5,253.29 1544.51,250.8 1544.51,248.32 1544.52,245.84 1544.53,243.35 1544.54,240.87 1544.55,238.38 1544.55,235.9 1544.56,233.42 1544.57,230.93 1544.58,228.45 1544.58,225.96 1544.59,223.48 1544.6,221 1544.6,218.51 1544.61,216.03 1544.62,213.54 1544.62,211.06 1544.63,208.58 1544.64,206.09 1544.64,203.61 1544.65,201.13 1544.65,198.64 1544.66,196.16 1544.66,193.67 1544.67,191.19 1544.67,188.71 1544.68,186.22 1544.68,183.74 1544.68,183.29" stroke="#c54102"/>
<polyline points="276.76,1671.58 276.76,1669.1 276.76,1666.61 276.76,1664.13 276.76,1661.65 276.76,1659.16 276.76,1656.68 276.76,1654.19 276.76,1651.71 276.76,1649.23 276.76,1646.74 276.76,1644.26 276.76,1641.78 276.76,1639.29 276.76,1636.81 276.76,1634.32 276.76,1631.84 276.76,1629.36 276.76,1626.87 276.76,1624.39 276.76,1621.9 276.77,1619.42 276.77,1616.94 276.77,1614.45 276.78,1611.97 276.78,1609.49 276.79,1607 276.8,1604.52 276.82,1602.03 276.84,1599.55 276.86,1597.07 276.89,1594.58 276.92,1592.1 276.96,1589.61 277.01,1587.13 277.06,1584.65 277.13,1582.16 277.21,1579.68 277.3,1577.19 277.4,1574.71 277.51,1572.23 277.65,1569.74 277.8,1567.26 277.97,1564.78 278.17,1562.29 278.38,1559.81 278.62,1557.32 278.88,1554.84 279.16,1552.36 279.48,1549.87 279.84,1547.39 280.22,1544.9 280.63,1542.42 281.08,1539.94 281.56,1537.45 282.08,1534.97 282.65,1532.48 283.25,1530 283.91,1527.52 284.61,1525.03 285.35,1522.55 286.14,1520.07 286.97,1517.58 287.86,1515.1 288.8,1512.61 289.8,1510.13 290.86,1507.65 291.97,1505.16 293.14,1502.68 294.37,1500.19 295.65,1497.71 297,1495.23 298.41,1492.74 299.89,1490.26 301.44,1487.78 303.06,1485.29 304.74,1482.81 306.48,1480.32 308.3,1477.84 310.18,1475.36 312.14,1472.87 314.16,1470.39 316.27,1467.9 318.45,1465.42 320.7,1462.94 323.02,1460.45 325.41,1457.97 327.88,1455.48 330.42,1453 333.05,1450.52 335.74,1448.03 338.52,1445.55 341.37,1443.07 344.3,1440.58 347.3,1438.1 350.37,1435.61 353.52,1433.13 356.75,1430.65 360.06,1428.16 363.44,1425.68 366.9,1423.19 370.43,1420.71 374.03,1418.23 377.71,1415.74 381.46,1413.26 385.28,1410.77 389.18,1408.29 393.15,1405.81 397.2,1403.32 401.31,1400.84 405.49,1398.36 409.75,1395.87 414.07,1393.39 418.45,1390.9 422.91,1388.42 427.43,1385.94 432.02,1383.45 436.67,1380.97 441.39,1378.48 446.17,1376 451,1373.52 455.9,1371.03 460.86,1368.55 465.88,1366.06 470.96,1363.58 476.09,1361.1 481.27,1358.61 486.52,1356.13 491.81,1353.65 497.15,1351.16 502.55,1348.68 507.99,1346.19 513.49,1343.71 519.03,1341.23 524.61,1338.74 530.24,1336.26 535.91,1333.77 541.63,1331.29 547.38,1328.81 553.18,1326.32 559.01,1323.84 564.88,1321.36 570.79,1318.87 576.73,1316.39 582.7,1313.9 588.71,1311.42 594.74,1308.94 600.8,1306.45 606.9,1303.97 613.02,1301.48 619.16,1299 625.33,1296.52 631.52,1294.03 637.73,1291.55 643.96,1289.06 650.22,1286.58 656.49,1284.1 662.77,1281.61 669.07,1279.13 675.39,1276.65 681.72,1274.16 688.06,1271.68 694.41,1269.19 700.77,1266.71 707.14,1264.23 713.52,1261.74 719.9,1259.26 726.28,1256.77 732.67,1254.29 739.07,1251.81 745.46,1249.32 751.86,1246.84 758.25,1244.35 764.64,1241.87 771.03,1239.39 777.42,1236.9 783.8,1234.42 790.17,1231.94 796.54,1229.45 802.9,1226.97 809.26,1224.48 815.6,1222 821.93,1219.52 828.25,1217.03 834.56,1214.55 840.86,1212.06 847.14,1209.58 853.4,1207.1 859.66,1204.61 865.89,1202.13 872.11,1199.64 878.31,1197.16 884.49,1194.68 890.65,1192.19 896.79,1189.71 902.91,1187.23 909.01,1184.74 915.08,1182.26 921.14,1179.77 927.17,1177.29 933.17,1174.81 939.15,1172.32 945.11,1169.84 951.04,1167.35 956.94,1164.87 962.81,1162.39 968.66,1159.9 974.48,1157.42 980.27,1154.94 986.03,1152.45 991.76,1149.97 997.47,1147.48 1003.14,1145 1008.78,1142.52 1014.39,1140.03 1019.96,1137.55 1025.51,1135.06 1031.02,1132.58 1036.5,1130.1 1041.95,1127.61 1047.36,1125.13 1052.74,1122.64 1058.09,1120.16 1063.4,1117.68 1068.68,1115.19 1073.92,1112.71 1079.12,1110.23 1084.29,1107.74 1089.43,1105.26 1094.53,1102.77 1099.59,1100.29 1104.62,1097.81 1109.61,1095.32 1114.57,1092.84 1119.48,1090.35 1124.36,1087.87 1129.21,1085.39 1134.01,1082.9 1138.78,1080.42 1143.52,1077.93 1148.21,1075.45 1152.87,1072.97 1157.49,1070.48 1162.07,1068 1166.62,1065.52 1171.12,1063.03 1175.59,1060.55 1180.02,1058.06 1184.42,1055.58 1188.77,1053.1 1193.09,1050.61 1197.37,1048.13 1201.62,1045.64 1205.82,1043.16 1209.99,1040.68 1214.12,1038.19 1218.21,1035.71 1222.27,1033.22 1226.29,1030.74 1230.27,1028.26 1234.21,1025.77 1238.12,1023.29 1241.99,1020.81 1245.82,1018.32 1249.61,1015.84 1253.37,1013.35 1257.09,1010.87 1260.78,1008.39 1264.43,1005.9 1268.04,1003.42 1271.62,1000.93 1275.16,998.45 1278.66,995.97 1282.13,993.48 1285.57,991 1288.97,988.52 1292.33,986.03 1295.66,983.55 1298.95,981.06 1302.21,978.58 1305.43,976.1 1308.62,973.61 1311.78,971.13 1314.9,968.64 1317.99,966.16 1321.04,963.68 1324.06,961.19 1327.05,958.71 1330.01,956.22 1332.93,953.74 1335.82,951.26 1338.67,948.77 1341.5,946.29 1344.29,943.81 1347.05,941.32 1349.78,938.84 1352.48,936.35 1355.15,933.87 1357.79,931.39 1360.39,928.9 1362.97,926.42 1365.52,923.93 1368.03,921.45 1370.52,918.97 1372.97,916.48 1375.4,914 1377.8,911.51 1380.17,909.03 1382.51,906.55 1384.82,904.06 1387.11,901.58 1389.37,899.1 1391.6,896.61 1393.8,894.13 1395.97,891.64 1398.12,889.16 1400.24,886.68 1402.34,884.19 1404.41,881.71 1406.45,879.22 1408.47,876.74 1410.46,874.26 1412.43,871.77 1414.37,869.29 1416.29,866.8 1418.18,864.32 1420.05,861.84 1421.89,859.35 1423.71,856.87 1425.51,854.39 1427.28,851.9 1429.03,849.42 1430.76,846.93 1432.47,844.45 1434.15,841.97 1435.81,839.48 1437.45,837 1439.06,834.51 1440.66,832.03 1442.23,829.55 1443.79,827.06 1445.32,824.58 1446.83,822.1 1448.32,819.61 1449.79,817.13 1451.24,814.64 1452.67,812.16 1454.09,809.68 1455.48,807.19 1456.85,804.71 1458.21,802.22 1459.54,799.74 1460.86,797.26 1462.16,794.77 1463.44,792.29 1464.7,789.8 1465.95,787.32 1467.18,784.84 1468.39,782.35 1469.58,779.87 1470.76,777.39 1471.92,774.9 1473.06,772.42 1474.19,769.93 1475.3,767.45 1476.4,764.97 1477.48,762.48 1478.54,760 1479.59,757.51 1480.63,755.03 1481.65,752.55 1482.65,750.06 1483.64,747.58 1484.62,745.09 1485.58,742.61 1486.53,740.13 1487.46,737.64 1488.38,735.16 1489.29,732.68 1490.18,730.19 1491.06,727.71 1491.93,725.22 1492.79,722.74 1493.63,720.26 1494.46,717.77 1495.27,715.29 1496.08,712.8 1496.87,710.32 1497.65,707.84 1498.42,705.35 1499.18,702.87 1499.93,700.39 1500.66,697.9 1501.39,695.42 1502.1,692.93 1502.8,690.45 1503.49,687.97 1504.17,685.48 1504.85,683 1505.51,680.51 1506.16,678.03 1506.8,675.55 1507.43,673.06 1508.05,670.58 1508.66,668.09 1509.26,665.61 1509.85,663.13 1510.44,660.64 1511.01,658.16 1511.58,655.68 1512.14,653.19 1512.68,650.71 1513.22,648.22 1513.75,645.74 1514.28,643.26 1514.79,640.77 1515.3,638.29 1515.8,635.8 1516.29,633.32 1516.77,630.84 1517.25,628.35 1517.71,625.87 1518.17,623.38 1518.63,620.9 1519.07,618.42 1519.51,615.93 1519.94,613.45 1520.37,610.97 1520.79,608.48 1521.2,606 1521.6,603.51 1522,601.03 1522.39,598.55 1522.78,596.06 1523.16,593.58 1523.53,591.09 1523.9,588.61 1524.26,586.13 1524.62,583.64 1524.97,581.16 1525.31,578.67 1525.65,576.19 1525.98,573.71 1526.31,571.22 1526.63,568.74 1526.95,566.26 1527.26,563.77 1527.57,561.29 1527.87,558.8 1528.17,556.32 1528.46,553.84 1528.74,551.35 1529.03,548.87 1529.3,546.38 1529.58,543.9 1529.84,541.42 1530.11,538.93 1530.37,536.45 1530.62,533.97 1530.87,531.48 1531.12,529 1531.36,526.51 1531.6,524.03 1531.84,521.55 1532.07,519.06 1532.29,516.58 1532.52,514.09 1532.74,511.61 1532.95,509.13 1533.16,506.64 1533.37,504.16 1533.58,501.67 1533.78,499.19 1533.98,496.71 1534.17,494.22 1534.36,491.74 1534.55,489.26 1534.74,486.77 1534.92,484.29 1535.1,481.8 1535.27,479.32 1535.44,476.84 1535.61,474.35 1535.78,471.87 1535.94,469.38 1536.11,466.9 1536.26,464.42 1536.42,461.93 1536.57,459.45 1536.72,456.96 1536.87,454.48 1537.02,452 1537.16,449.51 1537.3,447.03 1537.44,444.55 1537.57,442.06 1537.7,439.58 1537.84,437.09 1537.96,434.61 1538.09,432.13 1538.21,429.64 1538.34,427.16 1538.46,424.67 1538.57,422.19 1538.69,419.71 1538.8,417.22 1538.91,414.74 1539.02,412.25 1539.13,409.77 1539.24,407.29 1539.34,404.8 1539.44,402.32 1539.54,399.84 1539.64,397.35 1539.74,394.87 1539.83,392.38 1539.93,389.9 1540.02,387.42 1540.11,384.93 1540.2,382.45 1540.28,379.96 1540.37,377.48 1540.45,375 1540.54,372.51 1540.62,370.03 1540.7,367.55 1540.77,365.06 1540.85,362.58 1540.93,360.09 1541,357.61 1541.07,355.13 1541.14,352.64 1541.21,350.16 1541.28,347.67 1541.35,345.19 1541.42,342.71 1541.48,340.22 1541.55,337.74 1541.61,335.25 1541.67,332.77 1541.73,330.29 1541.79,327.8 1541.85,325.32 1541.91,322.84 1541.96,320.35 1542.02,317.87 1542.07,315.38 1542.13,312.9 1542.18,310.42 1542.23,307.93 1542.28,305.45 1542.33,302.96 1542.38,300.48 1542.43,298 1542.47,295.51 1542.52,293.03 1542.57,290.54 1542.61,288.06 1542.65,285.58 1542.7,283.09 1542.74,280.61 1542.78,278.13 1542.82,275.64 1542.86,273.16 1542.9,270.67 1542.94,268.19 1542.97,265.71 1543.01,263.22 1543.05,260.74 1543.08,258.25 1543.12,255.77 1543.15,253.29 1543.19,250.8 1543.22,248.32 1543.25,245.84 1543.28,243.35 1543.31,240.87 1543.34,238.38 1543.38,235.9 1543.4,233.42 1543.43,230.93 1543.46,228.45 1543.49,225.96 1543.52,223.48 1543.54,221 1543.57,218.51 1543.6,216.03 1543.62,213.54 1543.65,211.06 1543.67,208.58 1543.69,206.09 1543.72,203.61 1543.74,201.13 1543.76,198.64 1543.79,196.16 1543.81,193.67 1543.83,191.19 1543.85,188.71 1543.87,186.22 1543.89,183.74 1543.89,183.29" stroke="#9e3303"/>
</g>
<path d="M404 1736.4V1149.97" stroke="#808080" stroke-width="6.25" stroke-dasharray="6.25 10.3125" fill="none"/>
<path d="M594 1736.4V1060.55" stroke="#808080" stroke-width="6.25" stroke-dasharray="6.25 10.3125" fill="none"/>
<path d="M911 1736.4V933.87" stroke="#808080" stroke-width="6.25" stroke-dasharray="6.25 10.3125" fill="none"/>
<path d="M1228 1736.4V779.87" stroke="#808080" stroke-width="6.25" stroke-dasharray="6.25 10.3125" fill="none"/>
<path d="M1418 1736.4V615.93" stroke="#808080" stroke-width="6.25" stroke-dasharray="6.25 10.3125" fill="none"/>
<path d="M1532 1736.4V268.19" stroke="#808080" stroke-width="6.25" stroke-dasharray="6.25 10.3125" fill="none"/>
<circle cx="403.53" cy="1655.48" r="5.25" fill="#fd8c3b" stroke="#fff" stroke-width="2.0"/>
<circle cx="593.75" cy="1636.83" r="5.25" fill="#fd8c3b" stroke="#fff" stroke-width="2.0"/>
<circle cx="910.79" cy="1600.05" r="5.25" fill="#fd8c3b" stroke="#fff" stroke-width="2.0"/>
<circle cx="1227.83" cy="1533.59" r="5.25" fill="#fd8c3b" stroke="#fff" stroke-width="2.0"/>
<circle cx="1418.05" cy="1445.63" r="5.25" fill="#fd8c3b" stroke="#fff" stroke-width="2.0"/>
<circle cx="1532.19" cy="1224.25" r="5.25" fill="#fd8c3b" stroke="#fff" stroke-width="2.0"/>
<circle cx="403.53" cy="1608.18" r="5.25" fill="#f3701b" stroke="#fff" stroke-width="2.0"/>
<circle cx="593.75" cy="1566.41" r="5.25" fill="#f3701b" stroke="#fff" stroke-width="2.0"/>
<circle cx="910.79" cy="1497.2" r="5.25" fill="#f3701b" stroke="#fff" stroke-width="2.0"/>
<circle cx="1227.83" cy="1399.66" r="5.25" fill="#f3701b" stroke="#fff" stroke-width="2.0"/>
<circle cx="1418.05" cy="1284.56" r="5.25" fill="#f3701b" stroke="#fff" stroke-width="2.0"/>
<circle cx="1532.19" cy="1020.29" r="5.25" fill="#f3701b" stroke="#fff" stroke-width="2.0"/>
<circle cx="403.53" cy="1544.49" r="5.25" fill="#e25508" stroke="#fff" stroke-width="2.0"/>
<circle cx="593.75" cy="1484.17" r="5.25" fill="#e25508" stroke="#fff" stroke-width="2.0"/>
<circle cx="910.79" cy="1393.04" r="5.25" fill="#e25508" stroke="#fff" stroke-width="2.0"/>
<circle cx="1227.83" cy="1273.17" r="5.25" fill="#e25508" stroke="#fff" stroke-width="2.0"/>
<circle cx="1418.05" cy="1138.36" r="5.25" fill="#e25508" stroke="#fff" stroke-width="2.0"/>
<circle cx="1532.19" cy="841.87" r="5.25" fill="#e25508" stroke="#fff" stroke-width="2.0"/>
<circle cx="403.53" cy="1474.22" r="5.25" fill="#c54102" stroke="#fff" stroke-width="2.0"/>
<circle cx="593.75" cy="1398.06" r="5.25" fill="#c54102" stroke="#fff" stroke-width="2.0"/>
<circle cx="910.79" cy="1288.66" r="5.25" fill="#c54102" stroke="#fff" stroke-width="2.0"/>
<circle cx="1227.83" cy="1150.4" r="5.25" fill="#c54102" stroke="#fff" stroke-width="2.0"/>
<circle cx="1418.05" cy="999.29" r="5.25" fill="#c54102" stroke="#fff" stroke-width="2.0"/>
<circle cx="1532.19" cy="675.8" r="5.25" fill="#c54102" stroke="#fff" stroke-width="2.0"/>
<circle cx="403.53" cy="1399.69" r="5.25" fill="#9e3303" stroke="#fff" stroke-width="2.0"/>
<circle cx="593.75" cy="1309.52" r="5.25" fill="#9e3303" stroke="#fff" stroke-width="2.0"/>
<circle cx="910.79" cy="1184.19" r="5.25" fill="#9e3303" stroke="#fff" stroke-width="2.0"/>
<circle cx="1227.83" cy="1029.95" r="5.25" fill="#9e3303" stroke="#fff" stroke-width="2.0"/>
<circle cx="1418.05" cy="864.62" r="5.25" fill="#9e3303" stroke="#fff" stroke-width="2.0"/>
<circle cx="1532.19" cy="517.39" r="5.25" fill="#9e3303" stroke="#fff" stroke-width="2.0"/>
<g class="cj halo" font-size="41.67" stroke-width="6.6">
<text id="v10" x="330.58" y="1647.29" fill="#000">8</text>
<text id="v11" x="520.8" y="1627.42" fill="#000">16</text>
<text id="v12" x="837.84" y="1592.65" fill="#000">30</text>
<text id="v13" x="1154.88" y="1525.58" fill="#000">57</text>
<text id="v14" x="1345.1" y="1436.17" fill="#000">93</text>
<text id="v15" x="1459.24" y="1215.1" fill="#000">182</text>
<text id="v20" x="330.58" y="1600.1" fill="#000">27</text>
<text id="v21" x="520.8" y="1557.88" fill="#000">44</text>
<text id="v22" x="837.84" y="1488.33" fill="#000">72</text>
<text id="v23" x="1154.88" y="1391.46" fill="#000">111</text>
<text id="v24" x="1345.1" y="1277.2" fill="#000">157</text>
<text id="v25" x="1459.24" y="1011.42" fill="#000">264</text>
<text id="v30" x="330.58" y="1535.52" fill="#000">53</text>
<text id="v31" x="520.8" y="1475.91" fill="#000">77</text>
<text id="v32" x="837.84" y="1384" fill="#000">114</text>
<text id="v33" x="1154.88" y="1264.78" fill="#000">162</text>
<text id="v34" x="1345.1" y="1130.65" fill="#000">216</text>
<text id="v35" x="1459.24" y="832.58" fill="#000">336</text>
<text id="v40" x="330.58" y="1465.97" fill="#000">81</text>
<text id="v41" x="520.8" y="1388.97" fill="#000">112</text>
<text id="v42" x="837.84" y="1279.68" fill="#000">156</text>
<text id="v43" x="1154.88" y="1143.07" fill="#000">211</text>
<text id="v44" x="1345.1" y="991.55" fill="#000">272</text>
<text id="v45" x="1459.24" y="668.65" fill="#000">402</text>
<text id="v50" x="330.58" y="1391.46" fill="#000">111</text>
<text id="v51" x="520.8" y="1302.04" fill="#000">147</text>
<text id="v52" x="837.84" y="1175.36" fill="#000">198</text>
<text id="v53" x="1154.88" y="1021.36" fill="#000">260</text>
<text id="v54" x="1345.1" y="857.42" fill="#000">326</text>
<text id="v55" x="1459.24" y="509.68" fill="#000">466</text>
</g>
<g stroke="#000" stroke-width="0.45" font-size="41.67" class="cj"><use href="#v10"/><use href="#v11"/><use href="#v12"/><use href="#v13"/><use href="#v14"/><use href="#v15"/><use href="#v20"/><use href="#v21"/><use href="#v22"/><use href="#v23"/><use href="#v24"/><use href="#v25"/><use href="#v30"/><use href="#v31"/><use href="#v32"/><use href="#v33"/><use href="#v34"/><use href="#v35"/><use href="#v40"/><use href="#v41"/><use href="#v42"/><use href="#v43"/><use href="#v44"/><use href="#v45"/><use href="#v50"/><use href="#v51"/><use href="#v52"/><use href="#v53"/><use href="#v54"/><use href="#v55"/></g>
<g class="cj halo" font-size="41.67" font-weight="700" stroke-width="6.6">
<text x="833.8" y="1592.75" fill="#fd8c3b" text-anchor="end">1精</text>
<text x="833.8" y="1488.43" fill="#f3701b" text-anchor="end">2精</text>
<text x="833.8" y="1384.1" fill="#e25508" text-anchor="end">3精</text>
<text x="833.8" y="1279.78" fill="#c54102" text-anchor="end">4精</text>
<text x="833.8" y="1175.46" fill="#9e3303" text-anchor="end">5精</text>
<text x="392.08" y="1187.67" fill="#808080" text-anchor="end">10%</text>
<text x="582.3" y="1098.25" fill="#808080" text-anchor="end">25%</text>
<text x="899.34" y="971.57" fill="#808080" text-anchor="end">50%</text>
<text x="1216.38" y="817.57" fill="#808080" text-anchor="end">75%</text>
<text x="1406.6" y="653.63" fill="#808080" text-anchor="end">90%</text>
<text x="1520.74" y="305.89" fill="#808080" text-anchor="end">99%</text>
<text x="276.5" y="216.5" fill="#b3b3b3">采用bilibili.com/read/cv10468091模型</text>
<text x="276.5" y="265.4" fill="#b3b3b3">本算例中UP物品均不在常驻祈愿中</text>
<text x="276.5" y="314.3" fill="#b3b3b3">绘图曲线忽略五星与四星耦合情况</text>
<text x="276.5" y="363.2" fill="#b3b3b3">考虑耦合时获取一个特定UP物品的期望为42.11抽</text>
<text x="276.5" y="412.1" fill="#b3b3b3">无法保证在有限抽数内必能获得特定物品</text>
<text x="276.5" y="461" fill="#b3b3b3">@一棵平衡树</text>
</g>
<rect x="213.5" y="119.5" width="1395" height="1617" fill="none" stroke="#000" stroke-width="3.33" stroke-linejoin="miter"/>
<path d="M277.5 1736.5v14.9M404.5 1736.5v14.9M530.5 1736.5v14.9M657.5 1736.5v14.9M784.5 1736.5v14.9M911.5 1736.5v14.9M1038.5 1736.5v14.9M1164.5 1736.5v14.9M1291.5 1736.5v14.9M1418.5 1736.5v14.9M1545.5 1736.5v14.9M213.5 1674.5h-14.9M213.5 1550.5h-14.9M213.5 1426.5h-14.9M213.5 1301.5h-14.9M213.5 1177.5h-14.9M213.5 1053.5h-14.9M213.5 929.5h-14.9M213.5 805.5h-14.9M213.5 681.5h-14.9M213.5 556.5h-14.9M213.5 432.5h-14.9M213.5 308.5h-14.9M213.5 184.5h-14.9" stroke="#000" stroke-width="3.2" fill="none"/>
<path d="M226.5 1736.5v8.4M251.5 1736.5v8.4M302.5 1736.5v8.4M327.5 1736.5v8.4M353.5 1736.5v8.4M378.5 1736.5v8.4M429.5 1736.5v8.4M454.5 1736.5v8.4M480.5 1736.5v8.4M505.5 1736.5v8.4M556.5 1736.5v8.4M581.5 1736.5v8.4M606.5 1736.5v8.4M632.5 1736.5v8.4M683.5 1736.5v8.4M708.5 1736.5v8.4M733.5 1736.5v8.4M759.5 1736.5v8.4M809.5 1736.5v8.4M835.5 1736.5v8.4M860.5 1736.5v8.4M885.5 1736.5v8.4M936.5 1736.5v8.4M962.5 1736.5v8.4M987.5 1736.5v8.4M1012.5 1736.5v8.4M1063.5 1736.5v8.4M1088.5 1736.5v8.4M1114.5 1736.5v8.4M1139.5 1736.5v8.4M1190.5 1736.5v8.4M1215.5 1736.5v8.4M1241.5 1736.5v8.4M1266.5 1736.5v8.4M1317.5 1736.5v8.4M1342.5 1736.5v8.4M1367.5 1736.5v8.4M1393.5 1736.5v8.4M1443.5 1736.5v8.4M1469.5 1736.5v8.4M1494.5 1736.5v8.4M1520.5 1736.5v8.4M1570.5 1736.5v8.4M1596.5 1736.5v8.4M213.5 1724.5h-8.4M213.5 1699.5h-8.4M213.5 1649.5h-8.4M213.5 1624.5h-8.4M213.5 1600.5h-8.4M213.5 1575.5h-8.4M213.5 1525.5h-8.4M213.5 1500.5h-8.4M213.5 1475.5h-8.4M213.5 1451.5h-8.4M213.5 1401.5h-8.4M213.5 1376.5h-8.4M213.5 1351.5h-8.4M213.5 1326.5h-8.4M213.5 1277.5h-8.4M213.5 1252.5h-8.4M213.5 1227.5h-8.4M213.5 1202.5h-8.4M213.5 1152.5h-8.4M213.5 1128.5h-8.4M213.5 1103.5h-8.4M213.5 1078.5h-8.4M213.5 1028.5h-8.4M213.5 1003.5h-8.4M213.5 979.5h-8.4M213.5 954.5h-8.4M213.5 904.5h-8.4M213.5 879.5h-8.4M213.5 854.5h-8.4M213.5 830.5h-8.4M213.5 780.5h-8.4M213.5 755.5h-8.4M213.5 730.5h-8.4M213.5 705.5h-8.4M213.5 656.5h-8.4M213.5 631.5h-8.4M213.5 606.5h-8.4M213.5 581.5h-8.4M213.5 531.5h-8.4M213.5 507.5h-8.4M213.5 482.5h-8.4M213.5 457.5h-8.4M213.5 407.5h-8.4M213.5 382.5h-8.4M213.5 358.5h-8.4M213.5 333.5h-8.4M213.5 283.5h-8.4M213.5 258.5h-8.4M213.5 233.5h-8.4M213.5 209.5h-8.4M213.5 159.5h-8.4M213.5 134.5h-8.4" stroke="#000" stroke-width="2.6" fill="none"/>
<g class="tk">
<text x="277.16" y="1797.3" text-anchor="middle">0.0</text>
<text x="403.98" y="1797.3" text-anchor="middle">0.1</text>
<text x="530.79" y="1797.3" text-anchor="middle">0.2</text>
<text x="657.61" y="1797.3" text-anchor="middle">0.3</text>
<text x="784.42" y="1797.3" text-anchor="middle">0.4</text>
<text x="911.24" y="1797.3" text-anchor="middle">0.5</text>
<text x="1038.06" y="1797.3" text-anchor="middle">0.6</text>
<text x="1164.87" y="1797.3" text-anchor="middle">0.7</text>
<text x="1291.69" y="1797.3" text-anchor="middle">0.8</text>
<text x="1418.5" y="1797.3" text-anchor="middle">0.9</text>
<text x="1545.32" y="1797.3" text-anchor="middle">1.0</text>
<text x="184.1" y="1690.07" text-anchor="end">0</text>
<text x="184.1" y="1565.87" text-anchor="end">50</text>
<text x="184.1" y="1441.68" text-anchor="end">100</text>
<text x="184.1" y="1317.48" text-anchor="end">150</text>
<text x="184.1" y="1193.29" text-anchor="end">200</text>
<text x="184.1" y="1069.1" text-anchor="end">250</text>
<text x="184.1" y="944.9" text-anchor="end">300</text>
<text x="184.1" y="820.71" text-anchor="end">350</text>
<text x="184.1" y="696.51" text-anchor="end">400</text>
<text x="184.1" y="572.32" text-anchor="end">450</text>
<text x="184.1" y="448.13" text-anchor="end">500</text>
<text x="184.1" y="323.93" text-anchor="end">550</text>
<text x="184.1" y="199.74" text-anchor="end">600</text>
</g>
<text class="cj" x="911" y="1856.7" font-size="41.67" text-anchor="middle" fill="#000" stroke="#000" stroke-width="0.45">抽到概率</text>
<text class="cj" transform="translate(79.8 931.1) rotate(-90)" font-size="41.67" text-anchor="middle" fill="#000" stroke="#000" stroke-width="0.45">投入抽数</text>
<text class="cj" x="910.5" y="95" font-size="62.5" font-weight="700" text-anchor="middle" fill="#000">原神五UP四星武器抽取特定武器概率</text>
</svg></body></html>
